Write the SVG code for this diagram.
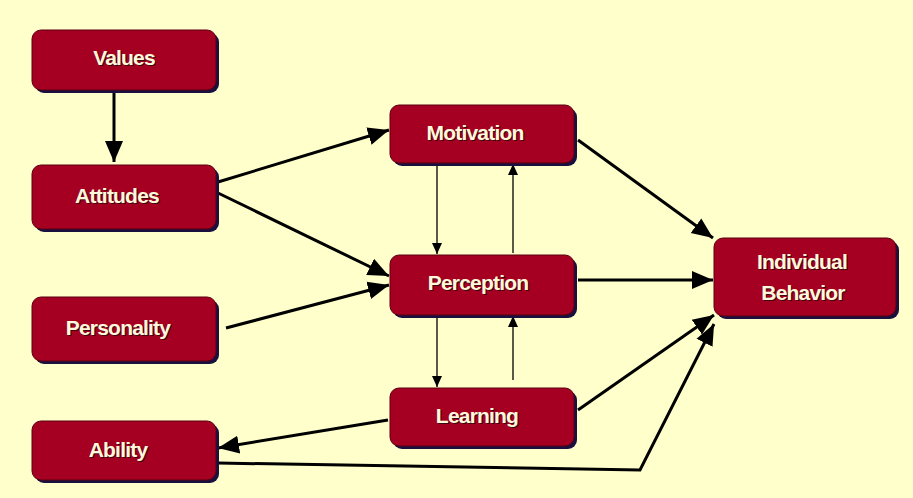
<svg xmlns="http://www.w3.org/2000/svg" width="913" height="498" viewBox="0 0 913 498">
<style>
.box{fill:#A50021;stroke:#5a0010;stroke-width:1}
.sh{fill:#1a1040}
.t{font-family:"Liberation Sans",Arial,sans-serif;font-weight:bold;font-size:21px;fill:#FFF8DC;text-anchor:middle;letter-spacing:-0.8px}
.ts{fill:#3a0a10}
.c{stroke:#000;stroke-width:3;fill:none}
.f{stroke:#000;stroke-width:1.3;fill:none}
</style>
<defs>
<marker id="a" markerWidth="8" markerHeight="8" refX="7" refY="4" orient="auto" markerUnits="strokeWidth"><path d="M0,1 L7,4 L0,7 z" fill="#000"/></marker>
<marker id="b" markerWidth="12" markerHeight="12" refX="11" refY="6" orient="auto" markerUnits="userSpaceOnUse"><path d="M0,1 L11,6 L0,11 z" fill="#000"/></marker>
</defs>
<rect width="913" height="498" fill="#FFFFCC"/>
<g id="connectors">
<path class="c" d="M114,90 L114,162" marker-end="url(#a)"/>
<path class="c" d="M218,182 L389,130" marker-end="url(#a)"/>
<path class="c" d="M218,193 L389,276" marker-end="url(#a)"/>
<path class="c" d="M226,328 L389,285" marker-end="url(#a)"/>
<path class="f" d="M437,165 L437,254" marker-end="url(#b)"/>
<path class="f" d="M513,253 L513,164" marker-end="url(#b)"/>
<path class="f" d="M437,317 L437,387" marker-end="url(#b)"/>
<path class="f" d="M513,380 L513,316" marker-end="url(#b)"/>
<path class="c" d="M578,140 L713,238" marker-end="url(#a)"/>
<path class="c" d="M578,280 L713,280" marker-end="url(#a)"/>
<path class="c" d="M578,410 L714,315" marker-end="url(#a)"/>
<path class="c" d="M388,420 L218,448" marker-end="url(#a)"/>
<path class="c" d="M218,463 L640,470 L714,324" marker-end="url(#a)"/>
</g>
<g id="values"><rect class="sh" x="35" y="33" width="184" height="60" rx="9"/><rect class="box" x="32" y="30" width="184" height="60" rx="9"/><text class="t ts" x="125" y="66">Values</text><text class="t" x="124" y="65">Values</text></g>
<g id="attitudes"><rect class="sh" x="35" y="168" width="184" height="64" rx="9"/><rect class="box" x="32" y="165" width="184" height="64" rx="9"/><text class="t ts" x="118" y="204">Attitudes</text><text class="t" x="117" y="203">Attitudes</text></g>
<g id="personality"><rect class="sh" x="35" y="300" width="184" height="64" rx="9"/><rect class="box" x="32" y="297" width="184" height="64" rx="9"/><text class="t ts" x="119" y="336">Personality</text><text class="t" x="118" y="335">Personality</text></g>
<g id="ability"><rect class="sh" x="35" y="424" width="184" height="59" rx="9"/><rect class="box" x="32" y="421" width="184" height="59" rx="9"/><text class="t ts" x="119" y="458">Ability</text><text class="t" x="118" y="457">Ability</text></g>
<g id="motivation"><rect class="sh" x="393" y="108" width="184" height="58" rx="9"/><rect class="box" x="390" y="105" width="184" height="58" rx="9"/><text class="t ts" x="476" y="141">Motivation</text><text class="t" x="475" y="140">Motivation</text></g>
<g id="perception"><rect class="sh" x="393" y="258" width="184" height="60" rx="9"/><rect class="box" x="390" y="255" width="184" height="60" rx="9"/><text class="t ts" x="479" y="291">Perception</text><text class="t" x="478" y="290">Perception</text></g>
<g id="learning"><rect class="sh" x="393" y="391" width="184" height="58" rx="9"/><rect class="box" x="390" y="388" width="184" height="58" rx="9"/><text class="t ts" x="478" y="424">Learning</text><text class="t" x="477" y="423">Learning</text></g>
<g id="behavior"><rect class="sh" x="717" y="241" width="182" height="78" rx="9"/><rect class="box" x="714" y="238" width="182" height="78" rx="9"/><text class="t ts" x="803" y="270">Individual</text><text class="t" x="802" y="269">Individual</text><text class="t ts" x="804" y="301">Behavior</text><text class="t" x="803" y="300">Behavior</text></g>
</svg>
